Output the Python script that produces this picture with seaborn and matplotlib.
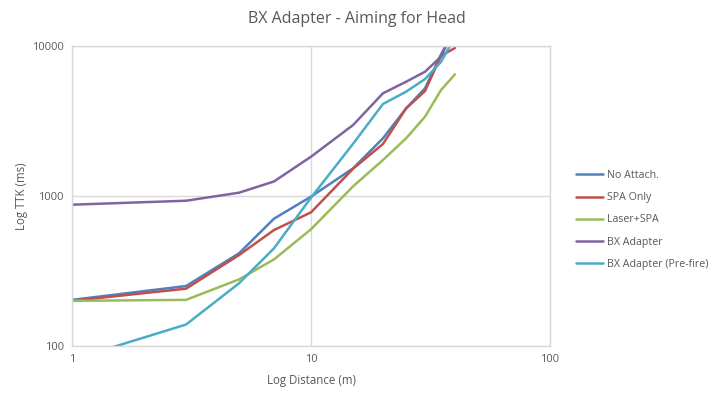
import pandas as pd
import matplotlib.pyplot as plt
import matplotlib.ticker as mticker
import seaborn as sns

# distances (m) and TTK (ms)
distance = [1, 3, 5, 7, 10, 15, 20, 25, 30, 35, 40]
no_attach = [203, 251, 415, 706, 990, 1530, 2425, 3840, 5225, 8800, 13000]
spa_only = [200, 241, 404, 593, 778, 1520, 2222, 3840, 5010, 8600, 9700]
laser_spa = [200, 203, 278, 378, 600, 1160, 1738, 2425, 3380, 5090, 6470]
bx_adapter = [875, 930, 1052, 1250, 1828, 2973, 4840, 5780, 6740, 8490, 13500]
bx_prefire = [81, 139, 262, 448, 975, 2230, 4105, 4960, 6025, 7850, 11500]

series = ["No Attach.", "SPA Only", "Laser+SPA", "BX Adapter", "BX Adapter (Pre-fire)"]
colors = ["#4F81BD", "#C0504D", "#9BBB59", "#8064A2", "#4BACC6"]

rows = []
for name, vals in zip(series, [no_attach, spa_only, laser_spa, bx_adapter, bx_prefire]):
    for d, v in zip(distance, vals):
        rows.append({"distance": d, "ttk": v, "series": name})
df = pd.DataFrame(rows)

sns.set_style("white")
plt.rcParams["font.family"] = ["Open Sans", "DejaVu Sans"]

fig = plt.figure(figsize=(7.13, 3.96), dpi=100)
ax = fig.add_axes([0.101, 0.1263, 0.6704, 0.7575])

sns.lineplot(data=df, x="distance", y="ttk", hue="series", hue_order=series,
             palette=colors, linewidth=1.8, ax=ax, sort=False)

ax.set_xscale("log")
ax.set_yscale("log")
ax.set_xlim(1, 100)
ax.set_ylim(100, 10000)
ax.xaxis.set_major_locator(mticker.FixedLocator([1, 10, 100]))
ax.yaxis.set_major_locator(mticker.FixedLocator([100, 1000, 10000]))
ax.xaxis.set_minor_locator(mticker.NullLocator())
ax.yaxis.set_minor_locator(mticker.NullLocator())
ax.xaxis.set_major_formatter(mticker.FormatStrFormatter("%d"))
ax.yaxis.set_major_formatter(mticker.FormatStrFormatter("%d"))
ax.tick_params(labelsize=8, colors="#595959", length=0, pad=6)
ax.grid(True, color="#D9D9D9", linewidth=1)
for s in ax.spines.values():
    s.set_color("#D9D9D9")
    s.set_linewidth(1)

ax.set_xlabel("Log Distance (m)", fontsize=8.3, color="#595959", labelpad=6)
ax.set_ylabel("Log TTK (ms)", fontsize=8.3, color="#595959", labelpad=3)
fig.suptitle("BX Adapter - Aiming for Head", fontsize=11.5, color="#595959", y=0.972)

ax.legend(title=None, frameon=False, fontsize=7.7, loc="center left",
          bbox_to_anchor=(1.035, 0.42), labelcolor="#595959", handlelength=2.5,
          handletextpad=0.4, labelspacing=1.05)

fig.savefig("out.png", dpi=100)
